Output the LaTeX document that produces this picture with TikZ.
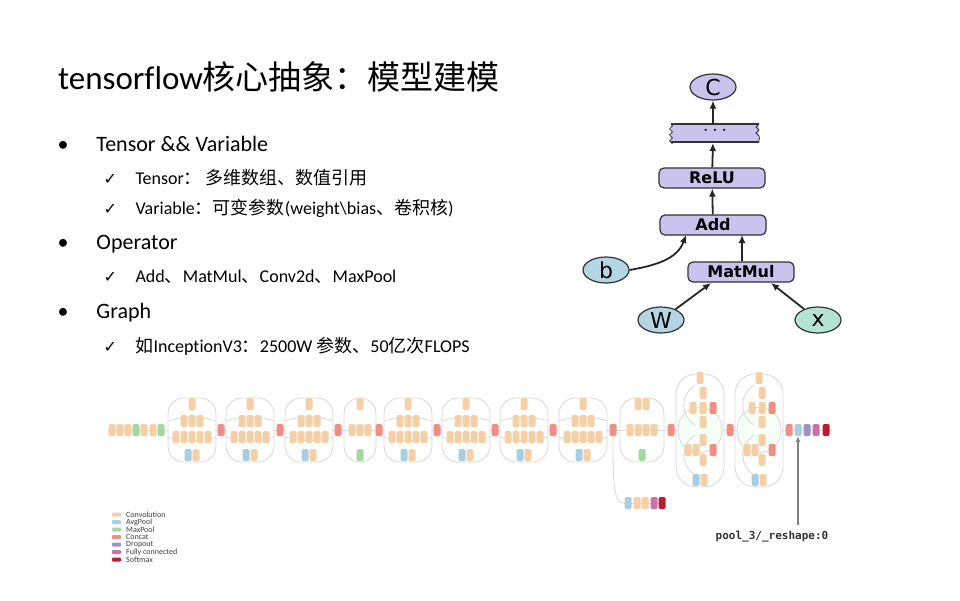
\documentclass[tikz,border=0pt]{standalone}
\usepackage{fontspec}
\setmainfont{Carlito}[Ligatures=NoCommon]
\setsansfont{DejaVu Sans}
\newfontfamily\cjk{Noto Sans CJK SC}
\newfontfamily\djv{DejaVu Sans}
\setmonofont{DejaVu Sans Mono}
\usetikzlibrary{decorations.pathmorphing,arrows.meta,shapes.geometric}
\definecolor{cv}{HTML}{F5CFA6}
\definecolor{ap}{HTML}{A9CDE3}
\definecolor{mp}{HTML}{A5D8A0}
\definecolor{cc}{HTML}{EE8E85}
\definecolor{dr}{HTML}{9A95C4}
\definecolor{fc}{HTML}{C873A9}
\definecolor{sm}{HTML}{B81F2E}
\definecolor{lav}{HTML}{C9C3EE}
\definecolor{bl}{HTML}{B4D5E3}
\definecolor{gx}{HTML}{B3E3D3}
\definecolor{ln}{HTML}{D8D8DC}
\tikzset{
 bx/.style={fill=#1,draw=none,rounded corners=1.5pt,minimum width=7pt,minimum height=12pt,inner sep=0pt},
 op/.style={draw=black!80,line width=1.2pt,fill=lav,rounded corners=5pt,minimum width=106pt,minimum height=20pt,inner sep=0pt,font=\sffamily\bfseries\fontsize{16}{16}\selectfont},
 var/.style={draw=black!80,line width=1.2pt,ellipse,fill=#1,minimum width=46pt,minimum height=26pt,inner sep=0pt,font=\sffamily\fontsize{22}{22}\selectfont},
 ar/.style={-{Latex[length=8pt,width=7pt]},line width=1.8pt,black!85},
 blk/.style={draw=ln,line width=0.8pt,rounded corners=16pt},
 wire/.style={draw=ln,line width=0.8pt},
 bul/.style={anchor=west,font=\fontsize{22}{22}\selectfont},
 sub/.style={anchor=west,font=\fontsize{18}{18}\selectfont},
}
\newcommand{\ck}{\makebox[32pt][l]{\djv\fontsize{16}{16}\selectfont ✓}}
\begin{document}
\begin{tikzpicture}[x=1pt,y=-1pt]
\useasboundingbox (0,0) rectangle (960,600);
\fill[white] (0,0) rectangle (960,600);
% text
\node[anchor=west,font=\fontsize{33}{33}\selectfont,inner sep=0pt] (title) at (58,77) {tensorflow{\cjk 核心抽象：模型建模}};
\node[bul] (b1) at (54,144) {•\hspace{28pt}Tensor \&\& Variable};
\node[sub] (s1) at (100,178) {\ck Tensor{\cjk ：\ 多维数组、数值引用}};
\node[sub] (s2) at (100,208) {\ck Variable{\cjk ：可变参数}(weight\textbackslash bias{\cjk 、卷积核})};
\node[bul] (b2) at (54,244) {•\hspace{28pt}Operator};
\node[sub] (s3) at (100,277) {\ck Add{\cjk 、}MatMul{\cjk 、}Conv2d{\cjk 、}MaxPool};
\node[bul] (b3) at (54,313) {•\hspace{28pt}Graph};
\node[sub] (s4) at (100,346) {\ck {\cjk 如}InceptionV3{\cjk ：}2500W {\cjk 参数、}50{\cjk 亿次}FLOPS};
% graph
\node[var=lav] (C) at (713,87) {C};
\fill[lav] (671,124) rectangle (759,142);
\draw[line width=1.2pt,black!80] (671,124) -- (759,124) (671,142) -- (759,142);
\draw[line width=0.8pt,black!80,decorate,decoration={snake,amplitude=1.5pt,segment length=6pt}] (671,124) -- (671,142) (759,124) -- (759,142);
\node[font=\bfseries\fontsize{20}{20}\selectfont] (dots) at (715,131) {$\cdots$};
\node[op] (relu) at (712,178) {ReLU};
\node[op] (add) at (713,225) {Add};
\node[var=bl] (b) at (606,270) {b};
\node[op] (mm) at (741,272) {MatMul};
\node[var=bl] (W) at (661,320) {W};
\node[var=gx] (x) at (818,320) {x};
\draw[ar] (713,124) -- (C);
\draw[ar] (relu) -- (713,143);
\draw[ar] (add) -- (relu);
\draw[ar] (mm.north -| 742,0) -- (742,235);
\draw[ar] (b.east) to[out=10,in=-110] (686,235);
\draw[ar] (W) -- (711,283);
\draw[ar] (x) -- (771,283);
% inception chain
\draw[wire] (108,430) -- (832,430);
\foreach \xx/\cl in {112/cv,120/cv,128/cv,136/mp,144/cv,153/cv,161/mp}
  \node[bx=\cl] at (\xx,430) {};
% standard blocks
\foreach \c/\bot in {192/ap,250/ap,309/ap,408/ap,466/ap,524/ap,583/ap}{
  \draw[blk,fill=white] (\c-24,398) rectangle (\c+24,462);
  \draw[wire] (\c-24,421) .. controls (\c-10,416) and (\c+10,416) .. (\c+24,421);
  \draw[wire] (\c-24,437) .. controls (\c-10,442) and (\c+10,442) .. (\c+24,437);
  \node[bx=cv] at (\c,404) {};
  \foreach \d in {-8,0,8} \node[bx=cv] at (\c+\d,421) {};
  \foreach \d in {-16,-8,0,8,16} \node[bx=cv] at (\c+\d,437) {};
  \node[bx=\bot] at (\c-4,455) {};
  \node[bx=cv] at (\c+4,455) {};
}
% block 4
\draw[blk,fill=white] (344,398) rectangle (376,462);
\draw[wire] (344,430) -- (376,430);
\node[bx=cv] at (360,404) {};
\foreach \d in {-8,0,8} \node[bx=cv] at (360+\d,430) {};
\node[bx=mp] at (360,455) {};
% block 9
\draw[blk,fill=white] (620,398) rectangle (664,462);
\draw[wire] (620,430) -- (664,430);
\node[bx=cv] at (638,404) {};\node[bx=cv] at (646,404) {};
\foreach \d in {-12,-4,4,12} \node[bx=cv] at (642+\d,430) {};
\node[bx=mp] at (642,455) {};
% blocks 10/11
\foreach \c in {700,759}{
  \draw[blk,rounded corners=20pt] (\c-24,374) rectangle (\c+24,487);
  \fill[green!4] (\c-22,430) .. controls (\c-22,400) and (\c+22,400) .. (\c+22,430) .. controls (\c+22,460) and (\c-22,460) .. (\c-22,430);
  \draw[wire] (\c-22,430) .. controls (\c-22,400) and (\c+22,400) .. (\c+22,430) .. controls (\c+22,460) and (\c-22,460) .. (\c-22,430);
  \draw[wire] (\c-5,385) .. controls (\c-20,395) and (\c-20,415) .. (\c-5,425);
  \draw[wire] (\c-5,435) .. controls (\c-20,445) and (\c-20,465) .. (\c-5,475);
  \node[bx=cv] at (\c,378) {};
  \node[bx=cv] at (\c+3,393) {};
  \node[bx=cv] at (\c-7,408) {};\node[bx=cv] at (\c+3,408) {};
  \node[bx=cc] at (\c+13,408) {};
  \node[bx=cv] at (\c+3,422) {};
  \node[bx=cv] at (\c+3,440) {};
  \node[bx=cv] at (\c-12,450) {};\node[bx=cv] at (\c-4,450) {};
  \node[bx=cc] at (\c+13,450) {};
  \node[bx=cv] at (\c+3,460) {};
  \node[bx=ap] at (\c-4,480) {};\node[bx=cv] at (\c+4,480) {};
}
% concats
\foreach \xx in {221,280,338,379,437,495,553,613,671,730}
  \node[bx=cc] at (\xx,430) {};
% end chain
\foreach \xx/\cl in {789/cc,798/ap,807/dr,816/fc,826/sm}
  \node[bx=\cl] (e\xx) at (\xx,430) {};
% aux branch
\draw[wire] (613,436) .. controls (613,480) and (613,503) .. (624,503);
\draw[wire] (624,503) -- (662,503);
\foreach \xx/\cl in {628/ap,637/cv,645/cv,654/fc,662/sm}
  \node[bx=\cl] at (\xx,503) {};
% annotation
\node[font=\ttfamily\bfseries\fontsize{11}{11}\selectfont,text=black!80] (lbl) at (772,537) {pool\_3/\_reshape:0};
\draw[-{Latex[length=6pt,width=5pt]},line width=1.2pt,gray] (798,525) -- (e798.south);
% legend
\foreach \i/\cl/\t in {0/cv/Convolution,1/ap/AvgPool,2/mp/MaxPool,3/cc/Concat,4/dr/Dropout,5/fc/Fully connected,6/sm/Softmax}{
  \fill[\cl,rounded corners=1pt] (112,512.5+7.5*\i) rectangle (121,516.5+7.5*\i);
  \node[anchor=west,inner sep=0pt,font=\fontsize{8}{8}\selectfont,text=black!75] at (126,514.5+7.5*\i) {\t};
}
\end{tikzpicture}
\end{document}
